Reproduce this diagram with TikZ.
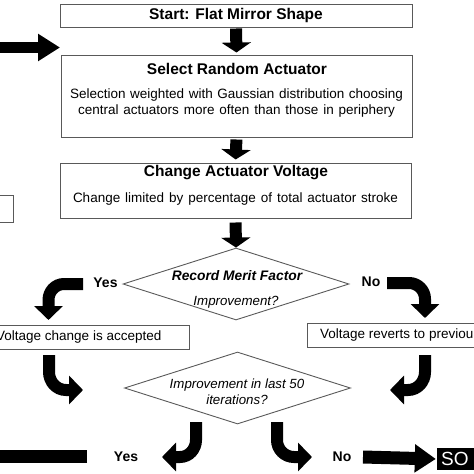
\documentclass[tikz,border=0pt]{standalone}
\usepackage{fontspec}
\setmainfont{Liberation Sans}
\usetikzlibrary{arrows.meta,shapes.geometric}
\begin{document}
\begin{tikzpicture}[x=1pt,y=-1pt,
 box/.style={draw=black!65, line width=1pt, inner sep=0pt},
 ttl/.style={font=\fontsize{15.5}{18}\selectfont\bfseries, inner sep=0pt},
 body/.style={font=\fontsize{13.5}{16}\selectfont, inner sep=0pt},
 ital/.style={font=\fontsize{13.3}{15}\selectfont\itshape, inner sep=0pt},
 dec/.style={draw=black!65, line width=0.9pt, diamond, inner sep=0pt, minimum width=226pt, minimum height=72pt},
 fat/.style={line width=12pt, -{Triangle[length=14pt,width=28pt]}},
 lbl/.style={font=\fontsize{14}{16}\selectfont\bfseries, inner sep=0pt}
]
\clip (0,0) rectangle (474,474);
\path[use as bounding box] (0,0) rectangle (474,474);

% boxes
\node[box, minimum width=352pt, minimum height=23pt, ttl] (start) at (236,15.5) {Start: Flat Mirror Shape};
\node[box, minimum width=351pt, minimum height=82pt] (sel) at (236.5,96) {};
\node[ttl] (selT) at (237,69) {Select Random Actuator};
\node[body] (selB1) at (236.5,95.5) {\makebox[333pt][s]{Selection weighted with Gaussian distribution choosing}};
\node[body] (selB2) at (236.5,111.5) {\makebox[317pt][s]{central actuators more often than those in periphery}};

\node[box, minimum width=351pt, minimum height=55pt] (chg) at (235.5,190.5) {};
\node[ttl] (chgT) at (236,173) {Change Actuator Voltage};
\node[body] (chgB) at (235.5,199) {\makebox[325pt][s]{Change limited by percentage of total actuator stroke}};

\node[box, minimum width=33pt, minimum height=27pt] (side) at (-3.5,208.5) {};

% decision 1
\node[dec] (d1) at (236,284) {};
\node[font=\fontsize{13.8}{15}\selectfont\bfseries\itshape, inner sep=0pt] (d1a) at (237,276) {Record Merit Factor};
\node[ital] (d1b) at (236,302) {Improvement?};
\node[lbl] (yes1) at (105.5,283) {Yes};
\node[lbl] (no1) at (371,282) {No};

% result boxes
\node[box, minimum width=196pt, minimum height=24pt] (acc) at (91,337) {};
\node[body, anchor=west] (accT) at (-4,337) {Voltage change is accepted};
\node[box, minimum width=175pt, minimum height=24pt] (rev) at (394.5,335) {};
\node[body, anchor=west] (revT) at (320,335) {Voltage reverts to previou};

% decision 2
\node[dec] (d2) at (237.5,388) {};
\node[ital] (d2a) at (237,385) {Improvement in last 50};
\node[ital] (d2b) at (237,400) {iterations?};
\node[lbl] (yes2) at (126,457) {Yes};
\node[lbl] (no2) at (342,457) {No};

% SO box
\node[fill=black, minimum width=50pt, minimum height=22pt, inner sep=0pt] (so) at (462,459) {};
\node[text=white, font=\fontsize{19}{21}\selectfont, anchor=west, inner sep=0pt] (soT) at (441,459) {SO};

% connector coordinates
\coordinate (loopA) at (-10,47.5);
\coordinate (loopB) at (60,47.5);
\coordinate (y1s) at (83,284);   \coordinate (y1e) at (48.5,320);
\coordinate (n1s) at (387,283);  \coordinate (n1e) at (425,318);
\coordinate (a1s) at (49,355);   \coordinate (a1e) at (83,390);
\coordinate (r1s) at (425,355);  \coordinate (r1e) at (390,390);
\coordinate (y2s) at (196,422);  \coordinate (y2e) at (162,457);
\coordinate (n2s) at (277,422);  \coordinate (n2e) at (312,457);
\coordinate (barA) at (87,456.5); \coordinate (barB) at (-10,456.5);
\coordinate (soA) at (363,457);

% straight arrows
\draw[line width=12pt, -{Triangle[length=10pt,width=29pt]}, shorten <=1pt, shorten >=2pt] (start.south) -- (sel.north);
\draw[line width=12pt, -{Triangle[length=10pt,width=29pt]}, shorten <=2pt, shorten >=3pt] (sel.south) -- (chg.north);
\draw[line width=12pt, -{Triangle[length=10pt,width=29pt]}, shorten <=4pt] (chg.south) -- (d1.north);
\draw[line width=11pt, -{Triangle[length=22pt,width=26pt]}] (loopA) -- (loopB);

% curved arrows
\draw[fat] (y1s) -- (64,284) to[out=180,in=90] (48.5,300) -- (y1e);
\draw[fat] (n1s) -- (409,283) to[out=0,in=90] (425,299) -- (n1e);
\draw[fat] (a1s) -- (49,372) to[out=-90,in=180] (66,390) -- (a1e);
\draw[fat] (r1s) -- (425,372) to[out=-90,in=0] (408,390) -- (r1e);
\draw[fat] (y2s) -- (196,440) to[out=-90,in=0] (180,457) -- (y2e);
\draw[fat] (n2s) -- (277,440) to[out=-90,in=180] (294,457) -- (n2e);

% bottom bars
\draw[line width=13pt] (barA) -- (barB);
\draw[line width=13pt, -{Triangle[length=21pt,width=27pt]}, shorten >=1pt] (soA) -- (so.west);
\end{tikzpicture}
\end{document}
